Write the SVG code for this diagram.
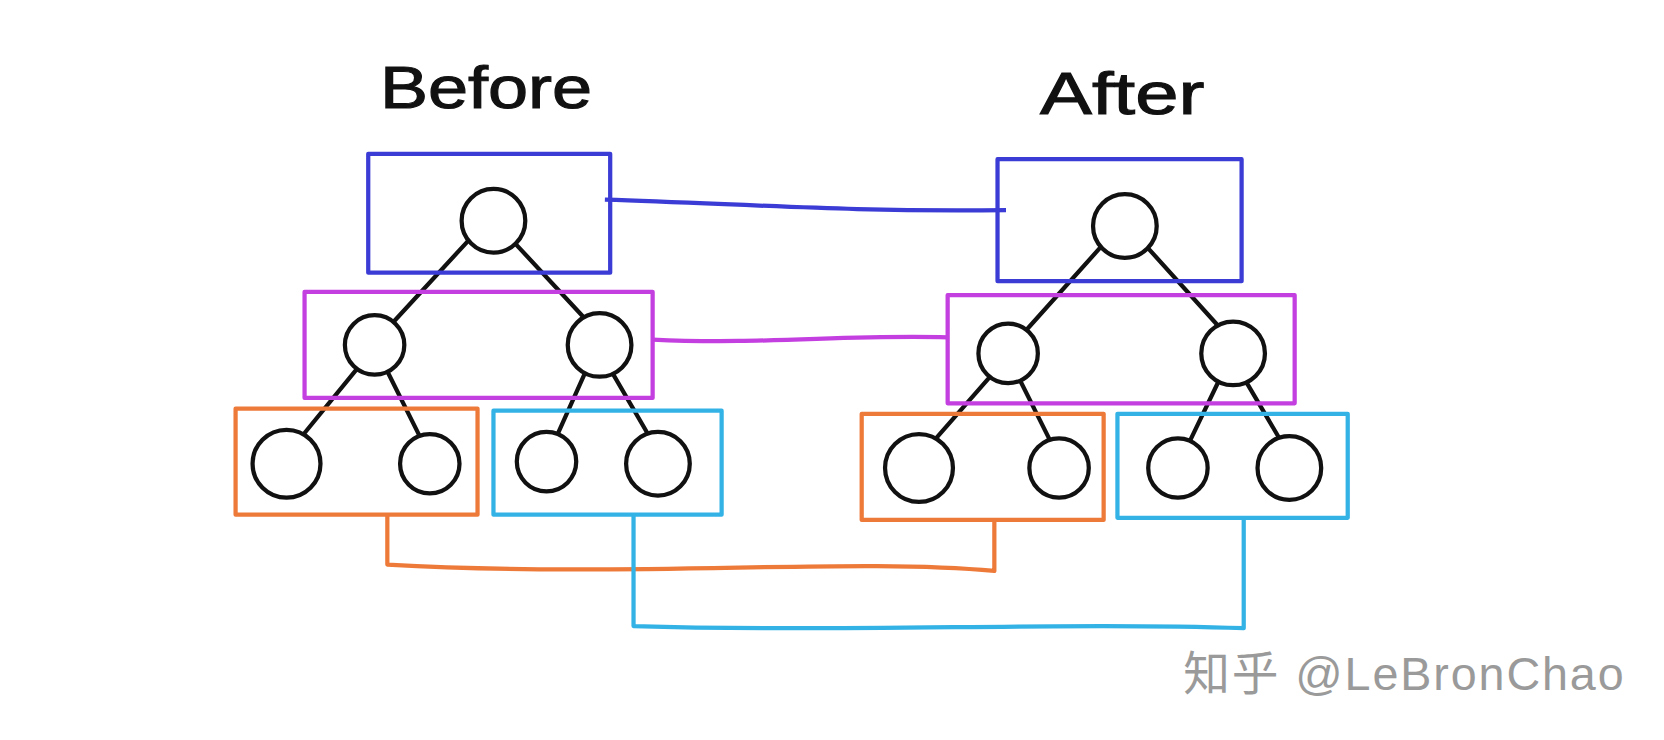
<svg xmlns="http://www.w3.org/2000/svg" width="1664" height="740" viewBox="0 0 1664 740">
<style>
.b{fill:none;stroke-width:4;stroke-linejoin:round}
.blue{stroke:#3b3bd6}.pur{stroke:#c43fe0}.org{stroke:#ee7a3a}.cy{stroke:#33b2e6}
.n{fill:#fff;stroke:#111;stroke-width:4}
.e{stroke:#111;stroke-width:4;stroke-linecap:round}
.t{font-family:"Comic Sans MS","Liberation Sans",sans-serif;font-size:56px;fill:#111;stroke:#111;stroke-width:1}
</style>
<rect width="1664" height="740" fill="#fff"/>
<g transform="scale(1.0612)">
<text class="t" x="358" y="102" textLength="200" lengthAdjust="spacingAndGlyphs">Before</text>
<text class="t" x="980" y="107" textLength="155" lengthAdjust="spacingAndGlyphs">After</text>
<g id="connectors">
<path class="b blue" d="M570 188 C700 192 800 200 948 198"/>
<path class="b pur" d="M615 320 C720 325 800 315 893 318"/>
<path class="b org" d="M365 485 L365 532 C600 545 800 525 937 538 L937 490"/>
<path class="b cy" d="M597 485 L597 590 C800 596 1000 586 1172 592 L1172 488"/>
<line class="e" x1="442" y1="226" x2="372" y2="302"/><line class="e" x1="486" y1="230" x2="550" y2="299"/>
<line class="e" x1="336" y1="348" x2="287" y2="408"/><line class="e" x1="366" y1="352" x2="395" y2="410"/>
<line class="e" x1="551" y1="352" x2="526" y2="408"/><line class="e" x1="578" y1="353" x2="610" y2="408"/>
<line class="e" x1="1038" y1="232" x2="968" y2="310"/><line class="e" x1="1082" y1="234" x2="1147" y2="306"/>
<line class="e" x1="932" y1="356" x2="882" y2="413"/><line class="e" x1="962" y1="360" x2="989" y2="414"/>
<line class="e" x1="1148" y1="360" x2="1122" y2="414"/><line class="e" x1="1175" y1="361" x2="1205" y2="412"/>
</g>
<g id="before-root"><rect class="b blue" x="347" y="145" width="228" height="112"/><circle class="n" cx="465" cy="208" r="30"/></g>
<g id="before-l2"><rect class="b pur" x="287" y="275" width="328" height="100"/><circle class="n" cx="353" cy="325" r="28"/><circle class="n" cx="565" cy="325" r="30"/></g>
<g id="before-l3a"><rect class="b org" x="222" y="385" width="228" height="100"/><circle class="n" cx="270" cy="437" r="32"/><circle class="n" cx="405" cy="437" r="28"/></g>
<g id="before-l3b"><rect class="b cy" x="465" y="387" width="215" height="98"/><circle class="n" cx="515" cy="435" r="28"/><circle class="n" cx="620" cy="437" r="30"/></g>
<g id="after-root"><rect class="b blue" x="940" y="150" width="230" height="115"/><circle class="n" cx="1060" cy="213" r="30"/></g>
<g id="after-l2"><rect class="b pur" x="893" y="278" width="327" height="102"/><circle class="n" cx="950" cy="333" r="28"/><circle class="n" cx="1162" cy="333" r="30"/></g>
<g id="after-l3a"><rect class="b org" x="812" y="390" width="228" height="100"/><circle class="n" cx="866" cy="441" r="32"/><circle class="n" cx="998" cy="441" r="28"/></g>
<g id="after-l3b"><rect class="b cy" x="1053" y="390" width="217" height="98"/><circle class="n" cx="1110" cy="441" r="28"/><circle class="n" cx="1215" cy="441" r="30"/></g>
<text x="1115" y="650" font-family="'Liberation Sans','Noto Sans CJK SC',sans-serif" font-size="44" fill="#9a9a9a" textLength="415">知乎 @LeBronChao</text>
</g>
</svg>
